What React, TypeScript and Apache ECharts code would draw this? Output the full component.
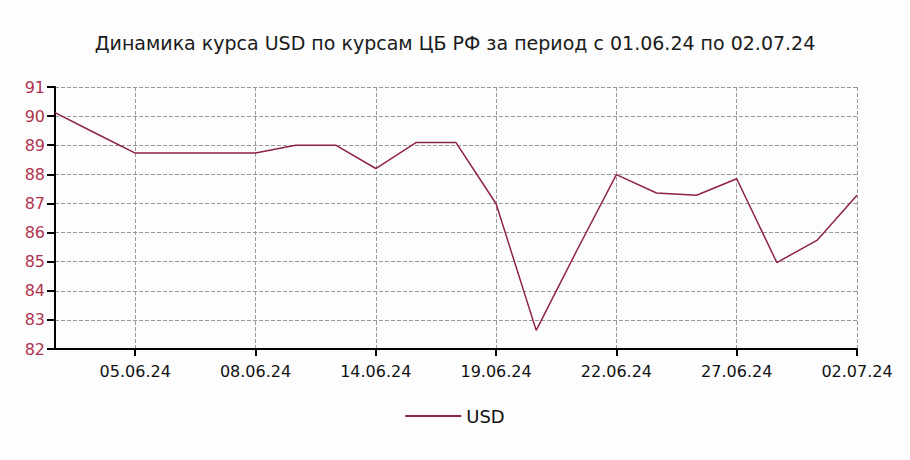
import * as echarts from "echarts";
import { useEffect, useRef } from "react";

// даты курсов ЦБ (торговые дни)
const dates = [
  "01.06.24", "04.06.24", "05.06.24", "06.06.24", "07.06.24", "08.06.24",
  "11.06.24", "13.06.24", "14.06.24", "15.06.24", "18.06.24", "19.06.24",
  "20.06.24", "21.06.24", "22.06.24", "25.06.24", "26.06.24", "27.06.24",
  "28.06.24", "29.06.24", "02.07.24",
];

const usdRates = [
  90.12, 89.42, 88.73, 88.73, 88.73, 88.73, 89.0, 89.0, 88.2, 89.09, 89.09,
  86.99, 82.64, 85.35, 87.99, 87.36, 87.28, 87.85, 84.97, 85.73, 87.28,
];

const yTicks = { min: 82, max: 91, step: 1 };

const FONT = "DejaVu Sans";

export default function App() {
  const chartRef = useRef<HTMLDivElement>(null);

  useEffect(() => {
    if (!chartRef.current) return;
    const chart = echarts.init(chartRef.current, undefined, { renderer: "svg" });

    const showEveryThird = (idx: number) => idx % 3 === 2;

    chart.setOption({
      animation: false,
      backgroundColor: "#fdfdfd",
      title: {
        text: "Динамика курса USD по курсам ЦБ РФ за период с 01.06.24 по 02.07.24",
        left: "center",
        top: 28,
        textStyle: {
          fontFamily: FONT,
          fontSize: 19,
          fontWeight: "normal",
          color: "#1a1a1a",
        },
      },
      legend: {
        bottom: 30,
        left: "center",
        itemWidth: 56,
        itemHeight: 10,
        itemGap: 10,
        textStyle: { fontFamily: FONT, fontSize: 18, color: "#111" },
        data: [{ name: "USD", icon: "path://M0,4 L56,4 L56,6 L0,6 Z" }],
      },
      grid: { left: 55, right: 53, top: 87, bottom: 111, containLabel: false },
      xAxis: {
        type: "category",
        data: dates,
        boundaryGap: false,
        axisLine: { lineStyle: { color: "#000", width: 2 } },
        axisTick: {
          show: true,
          interval: showEveryThird,
          length: 7,
          lineStyle: { color: "#000", width: 2 },
        },
        axisLabel: {
          interval: showEveryThird,
          color: "#111",
          fontFamily: FONT,
          fontSize: 16,
          margin: 14,
        },
        splitLine: {
          show: true,
          interval: showEveryThird,
          lineStyle: { color: "#999", type: [4, 2], width: 1 },
        },
      },
      yAxis: {
        type: "value",
        min: yTicks.min,
        max: yTicks.max,
        interval: yTicks.step,
        axisLine: { show: true, lineStyle: { color: "#000", width: 2 } },
        axisTick: { show: true, length: 8, lineStyle: { color: "#000", width: 2 } },
        axisLabel: {
          color: "#b0344f",
          fontFamily: FONT,
          fontSize: 16,
          margin: 10,
        },
        splitLine: {
          show: true,
          lineStyle: { color: "#999", type: [4, 2], width: 1 },
        },
      },
      series: [
        {
          name: "USD",
          type: "line",
          data: usdRates,
          symbol: "none",
          lineStyle: { color: "#8e2343", width: 1.5 },
          itemStyle: { color: "#8e2343" },
        },
      ],
    });

    return () => {
      chart.dispose();
    };
  }, []);

  return (
    <div
      ref={chartRef}
      style={{ width: 910, height: 460, position: "absolute", left: 0, top: 0 }}
    />
  );
}
